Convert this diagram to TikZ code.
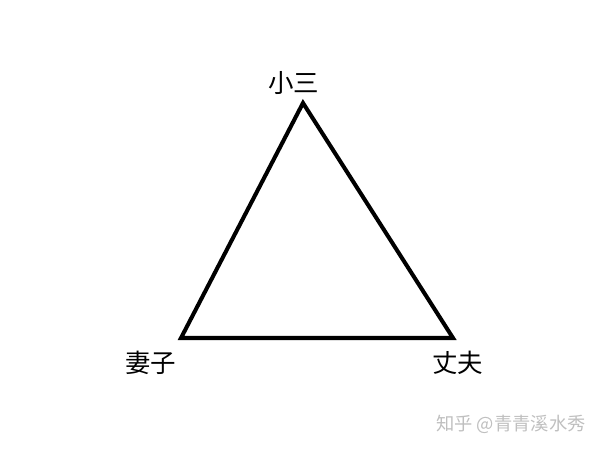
\documentclass[tikz,border=0pt]{standalone}
\usepackage{fontspec}
\newfontfamily\cjk{Noto Sans CJK SC}
\begin{document}
\begin{tikzpicture}
[x=0.02cm, y=-0.02cm,
% STYLES
% The person style is used to draw the names at the corners
person/.style={inner sep=0pt, font=\cjk\fontsize{14.5pt}{16pt}\selectfont},
% The mark style is used for the watermark
watermark/.style={inner sep=0pt, text=black!25, font=\cjk\fontsize{10.4pt}{12pt}\selectfont},
side/.style={line width=2.3pt, line join=miter}]

\useasboundingbox (0,0) rectangle (600,450);

% Draw corners
\coordinate (mistress) at (303,103);
\coordinate (wife) at (181,338);
\coordinate (husband) at (453,338);

\draw [side] (mistress) -- (wife) -- (husband) -- cycle;

% Draw names
\node [person] (mistresslabel) at (294,83) {小三};
\node [person] (wifelabel) at (151,363) {妻子};
\node [person] (husbandlabel) at (458,363) {丈夫};

\node [watermark] (mark) at (511,424) {知乎 @青青溪水秀};

\end{tikzpicture}
\end{document}
